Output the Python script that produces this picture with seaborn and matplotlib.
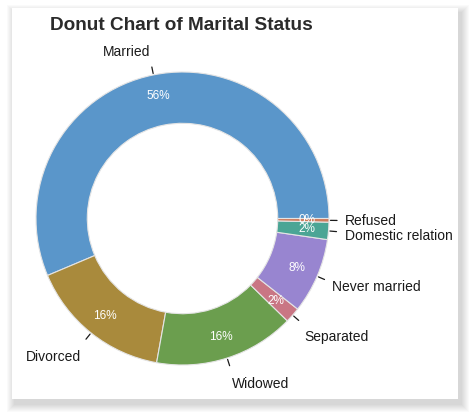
import numpy as np
import seaborn as sns
import matplotlib.pyplot as plt
from matplotlib.patches import Rectangle

# Datos (porcentajes)
estados = ['Married', 'Divorced', 'Widowed', 'Separated',
           'Never married', 'Domestic relation', 'Refused']
valores = [56.3, 15.8, 15.5, 1.7, 8.3, 1.9, 0.4]
colores = ['#5A96CA', '#A98A3C', '#6B9E4E', '#C97684',
           '#9885D0', '#4BA595', '#CF7B5B']

sns.set_theme(style="white")
plt.rcParams['font.family'] = ['Liberation Sans', 'DejaVu Sans']

W, H = 471, 415
fig = plt.figure(figsize=(W / 100, H / 100), dpi=100, facecolor='white')

# Tarjeta con sombra
def px_rect(x0, y0, x1, y1, **kw):
    return Rectangle((x0 / W, 1 - y1 / H), (x1 - x0) / W, (y1 - y0) / H,
                     transform=fig.transFigure, **kw)

for k in range(8, 0, -1):
    fig.patches.append(px_rect(12 - k + 3, 8 - k + 5, 458 + k + 3, 399 + k + 5,
                               facecolor='black', edgecolor='none',
                               alpha=0.018, zorder=-3))
fig.patches.append(px_rect(12, 8, 458, 399, facecolor='white',
                           edgecolor='none', zorder=-2))

# Ejes: centro (182.5, 218.5) px, radio 146.5 px
R = 146.5
cx, cy = 182.5, 218.5
left, right, top, bottom = 12, 458, 40, 398
ax = fig.add_axes([left / W, 1 - bottom / H, (right - left) / W, (bottom - top) / H])
ax.set_facecolor('none')
ax.set_zorder(1)

wedges, textos, pcts = ax.pie(
    valores, labels=estados, colors=colores, startangle=0,
    counterclock=True, autopct='%.0f%%', pctdistance=0.85,
    labeldistance=1.11,
    wedgeprops=dict(width=0.35, edgecolor='#e4e4e4', linewidth=0.8),
    textprops=dict(fontsize=10, color='#1a1a1a'))

for t in pcts:
    t.set_color('white')
    t.set_fontsize(8.5)

# Alineación vertical de etiquetas y líneas guía
for w, t in zip(wedges, textos):
    ang = np.deg2rad((w.theta1 + w.theta2) / 2)
    s = np.sin(ang)
    if s > 0.5:
        t.set_va('bottom')
    elif s < -0.05:
        if s < -0.5:
            t.set_va('top')
        x, y = t.get_position()
        t.set_position((x, y - 0.028))
    ax.plot([1.01 * np.cos(ang), 1.055 * np.cos(ang)],
            [1.01 * s, 1.055 * s], color='#1a1a1a', lw=0.9)

ax.set_aspect('auto')
ax.set_xlim(-(cx - left) / R, (right - cx) / R)
ax.set_ylim(-(bottom - cy) / R, (cy - top) / R)
ax.axis('off')

fig.text(50 / W, 1 - 30 / H, 'Donut Chart of Marital Status', fontsize=13.7,
         fontweight='bold', color='#2b2b2b', ha='left', va='baseline', zorder=2)

fig.savefig('out.png', dpi=100)
